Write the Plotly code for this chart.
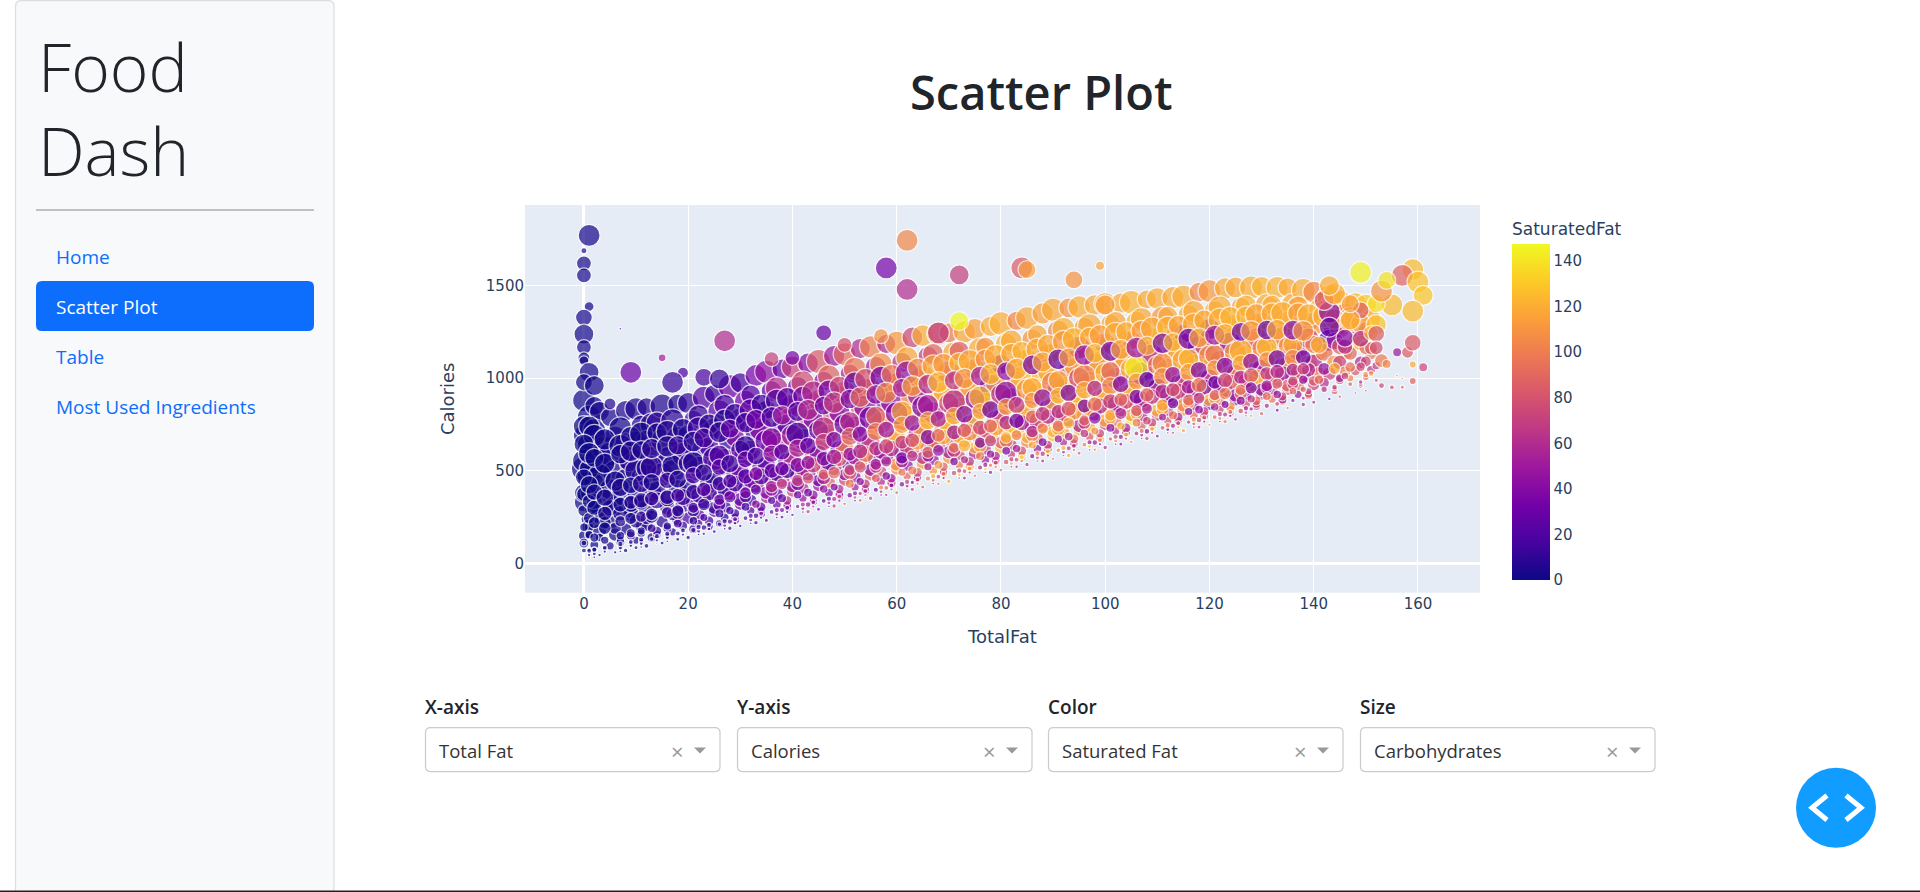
import plotly.graph_objects as go

# values: columns of bubbles, fills of the mass, outliers, lower fringe
total_fat = [
    0,1,0,2,0,1,0,1,0,0, 2,0,1,3,1,0,2,1,0,1, 3,2,4,3,2,4,3,3,2,3, 5,6,5,6,5,6,5,6,5,6,
    8,7,8,9,8,7,9,8,7,8, 10,11,10,9,11,10,9,11,10,10, 12,13,12,13,12,13,12,12,13,12, 15,14,15,16,15,14,16,15,14,15,
    18,17,18,19,17,18,19,18,17,18, 20,21,20,19,21,20,21,20,21,20, 23,22,24,23,22,24,23,22,24,23, 25,26,25,24,26,25,26,25,26,25,
    28,27,29,28,27,29,28,27,29,28, 30,31,30,29,31,30,31,30,29,30, 33,32,34,33,32,34,33,32,34,33, 35,36,35,34,36,35,36,35,34,35,
    38,37,39,38,37,39,38,37,39,38, 40,41,40,39,41,40,41,40,39,40, 43,42,44,43,42,44,43,42,44,43, 45,46,45,44,46,45,46,45,44,45,
    48,47,49,48,47,49,48,47,49,48, 50,51,50,49,51,50,51,50,49,50, 53,52,54,53,52,54,53,52,54,53, 55,56,55,54,56,55,56,55,54,55,
    58,57,59,58,57,59,58,57,59,58, 60,61,60,59,61,60,61,60,59,60, 63,62,64,63,62,64,63,62,64,63, 65,66,65,64,66,65,66,65,64,65,
    68,67,69,68,67,69,68,67,69,68, 70,71,70,69,71,70,71,70,69,70, 73,72,74,73,72,74,73,72,74,73, 75,76,75,74,76,75,76,75,74,75,
    78,77,79,78,77,79,78,77,79,78, 80,81,80,79,81,80,81,80,79,80, 83,82,84,83,82,84,83,82,84,83, 85,86,85,84,86,85,86,85,84,85,
    88,87,89,88,87,89,88,87,89,88, 90,91,90,89,91,90,91,90,89,90, 93,92,94,93,92,94,93,92,94,93, 95,96,95,94,96,95,96,95,94,95,
    98,97,99,98,97,99,98,97,99,98, 100,101,100,99,101,100,101,100,99,100, 103,102,104,103,102,104,103,102,104,103, 105,106,105,104,106,105,106,105,104,105,
    108,107,109,108,107,109,108,107,109,108, 110,111,110,109,111,110,111,110,109,110, 113,112,114,113,112,114,113,112,114,113, 115,116,115,114,116,115,116,115,114,115,
    118,117,119,118,117,119,118,117,119,118, 120,121,120,119,121,120,121,120,119,120, 123,122,124,123,122,124,123,122,124,123, 125,126,125,124,126,125,126,125,124,125,
    128,127,129,128,127,129,128,127,129,128, 130,131,130,129,131,130,131,130,129,130, 133,132,134,133,132,134,133,132,134,133, 135,136,135,134,136,135,136,135,134,135,
    138,137,139,138,137,139,138,137,139,138, 140,141,140,139,141,140,141,140,139,140, 143,142,144,143,142,144,143,142,144,143, 145,146,145,144,146,145,146,145,144,145,
    148,147,149,148,147,149,148,147,149,148, 150,151,150,149,151,150,151,150,149,150,
    # second fill
    1,0,1,2,1, 2,1,2,3,1, 4,3,5,4,3, 7,6,7,6,7, 9,10,9,10,9, 11,12,11,12,11, 14,13,14,13,14, 16,17,16,17,16,
    19,20,19,18,19, 22,21,22,21,22, 24,25,24,25,24, 27,26,27,26,27, 29,30,29,30,29, 32,31,32,31,32, 34,35,34,35,34, 37,36,37,36,37,
    39,40,39,40,39, 42,41,42,41,42, 44,45,44,45,44, 47,46,47,46,47, 49,50,49,50,49, 52,51,52,51,52, 54,55,54,55,54, 57,56,57,56,57,
    59,60,59,60,59, 62,61,62,61,62, 64,65,64,65,64, 67,66,67,66,67, 69,70,69,70,69, 72,71,72,71,72, 74,75,74,75,74, 77,76,77,76,77,
    79,80,79,80,79, 82,81,82,81,82, 84,85,84,85,84, 87,86,87,86,87, 89,90,89,90,89, 92,91,92,91,92, 94,95,94,95,94, 97,96,97,96,97,
    99,100,99,100,99, 102,101,102,101,102, 104,105,104,105,104, 107,106,107,106,107, 109,110,109,110,109, 112,111,112,111,112, 114,115,114,115,114, 117,116,117,116,117,
    119,120,119,120,119, 122,121,122,121,122, 124,125,124,125,124, 127,126,127,126,127, 129,130,129,130,129, 132,131,132,131,132, 134,135,134,135,134, 137,136,137,136,137,
    139,140,139,140,139, 142,141,142,141,142, 144,145,144,145,144, 147,146,147,146,147, 149,150,149,150,149, 152,151,152,151,152,
    # third fill
    0,0,0,0,0,0, 1,1,1,1,1,1, 2,2,2,2,2,2, 4,4,4,4,4,4, 7,7,7,7,7,7, 9,9,9,9,9,9, 11,11,11,11,11,11, 13,13,13,13,13,13,
    16,16,16,16,16,16, 18,18,18,18,18,18, 21,21,21,21,21,21, 23,23,23,23,23,23, 26,26,26,26,26,26, 28,28,28,28,28,28, 31,31,31,31,31,31, 33,33,33,33,33,33,
    36,36,36,36,36,36, 38,38,38,38,38,38, 41,41,41,41,41,41, 43,43,43,43,43,43, 46,46,46,46,46,46, 48,48,48,48,48,48, 51,51,51,51,51,51, 53,53,53,53,53,53,
    56,56,56,56,56,56, 58,58,58,58,58,58, 61,61,61,61,61,61, 63,63,63,63,63,63, 66,66,66,66,66,66, 68,68,68,68,68,68, 71,71,71,71,71,71, 73,73,73,73,73,73,
    76,76,76,76,76,76, 78,78,78,78,78,78, 81,81,81,81,81,81, 83,83,83,83,83,83, 86,86,86,86,86,86, 88,88,88,88,88,88, 91,91,91,91,91,91, 93,93,93,93,93,93,
    96,96,96,96,96,96, 98,98,98,98,98,98, 101,101,101,101,101,101, 103,103,103,103,103,103, 106,106,106,106,106,106, 108,108,108,108,108,108, 111,111,111,111,111,111, 113,113,113,113,113,113,
    116,116,116,116,116,116, 118,118,118,118,118,118, 121,121,121,121,121,121, 123,123,123,123,123,123, 126,126,126,126,126,126, 128,128,128,128,128,128, 131,131,131,131,131,131, 133,133,133,133,133,133,
    136,136,136,136,136,136, 138,138,138,138,138,138,
    # outliers
    1,0,0,0,1,0,0,0,0,0,7,15,9,27,19,17,23,26,46,50,40,36,
    62,58,62,72,84,85,94,99,72,57,68,100,149,159,157,160,161,159,155,152,153,154,
    161,159,157,157,156,155,153,156,158,159,159,143,143,142,144,143,146,149,149,147,147,151,152,152,153,154,
    1,0,2,5,
    # lower fringe
    1,1,1, 2,2,2, 4,4,4, 7,7,7, 9,9,9, 11,11,11, 14,14,14, 16,16,16, 19,19,19, 22,22,22, 24,24,24, 27,27,27,
    29,29,29, 32,32,32, 34,34,34, 37,37,37, 39,39,39, 42,42,42, 44,44,44, 47,47,47, 49,49,49, 52,52,52, 54,54,54,
    57,57,57, 59,59,59, 62,62,62, 64,64,64, 67,67,67, 69,69,69, 72,72,72, 74,74,74, 77,77,77, 79,79,79, 82,82,82,
    84,84,84, 87,87,87, 89,89,89, 92,92,92, 94,94,94, 97,97,97, 99,99,99, 102,102,102, 104,104,104, 107,107,107,
    109,109,109, 112,112,112, 114,114,114, 117,117,117, 119,119,119, 122,122,122, 124,124,124, 127,127,127,
]
calories = [
    880,790,690,600,510,420,330,240,150,70, 850,740,640,550,470,380,290,200,110,35, 820,720,620,520,430,340,260,180,100,45, 790,680,590,490,400,310,225,155,95,60,
    825,730,640,545,455,365,270,185,115,70, 835,745,650,560,470,375,285,200,125,85, 845,750,660,565,475,385,295,210,140,95, 850,760,665,575,480,395,305,225,155,110,
    860,770,680,585,495,400,315,235,170,130, 865,775,685,590,500,410,325,245,185,140, 895,800,705,610,520,430,340,260,200,160, 915,820,725,630,535,445,355,280,215,172,
    955,855,755,660,565,475,385,305,235,190, 975,875,775,680,585,490,400,320,250,202, 1015,910,810,710,610,515,425,340,270,220, 1035,930,830,725,630,530,440,355,285,232,
    1050,945,840,740,640,545,455,375,305,250, 1060,955,850,750,650,555,470,390,315,262, 1080,975,870,770,670,575,490,405,335,280, 1090,985,880,780,680,590,500,420,345,292,
    1120,1010,905,800,700,610,520,440,365,310, 1130,1025,920,815,715,620,530,450,375,322, 1160,1050,940,835,735,635,545,465,395,340, 1170,1060,950,845,745,650,560,480,405,352,
    1185,1075,965,860,760,665,575,495,425,370, 1190,1085,975,870,770,675,590,510,435,382, 1220,1110,1000,895,795,700,610,530,455,400, 1230,1120,1010,905,805,710,620,540,465,412,
    1240,1130,1020,915,815,725,640,560,485,430, 1245,1135,1030,925,825,735,650,570,495,443, 1250,1145,1040,935,840,750,665,585,515,461, 1265,1155,1050,945,850,760,675,595,525,473,
    1280,1170,1065,960,865,775,690,615,545,492, 1295,1185,1075,970,875,785,700,625,555,504, 1310,1200,1090,985,890,800,720,640,575,522, 1325,1210,1100,1000,900,810,730,655,585,534,
    1350,1235,1125,1020,925,835,750,675,605,553, 1370,1255,1140,1035,940,850,765,690,620,565, 1380,1265,1155,1050,950,860,780,705,640,583, 1385,1275,1165,1060,965,875,795,720,650,595,
    1395,1285,1175,1075,980,890,810,735,670,614, 1400,1295,1185,1085,990,900,820,750,680,626, 1405,1300,1195,1095,1000,915,835,765,700,644, 1410,1305,1205,1105,1010,925,845,775,710,656,
    1425,1320,1215,1115,1025,940,860,790,730,675, 1430,1325,1225,1125,1035,950,870,800,740,687, 1435,1335,1235,1140,1050,965,890,820,760,705, 1440,1340,1240,1150,1060,975,900,830,770,717,
    1465,1360,1260,1165,1075,990,915,850,790,736, 1470,1365,1265,1170,1085,1000,925,860,800,748, 1485,1380,1280,1185,1095,1015,940,875,815,766, 1490,1385,1285,1190,1105,1025,950,885,830,778,
    1490,1390,1295,1205,1120,1040,970,905,850,797, 1495,1395,1300,1210,1125,1050,980,915,860,809, 1490,1395,1305,1215,1135,1060,990,930,875,827, 1490,1395,1305,1220,1140,1070,1000,940,885,839,
    1475,1385,1300,1220,1145,1075,1015,955,905,858, 1465,1375,1295,1215,1145,1080,1020,965,915,870, 1440,1360,1280,1205,1140,1080,1025,975,930,888, 1420,1345,1270,1200,1140,1085,1035,990,945,900,
    1400,1330,1260,1195,1135,1085,1040,1000,960,920, 1395,1320,1255,1190,1135,1090,1045,1005,970,932,
    # second fill
    740,555,375,285,195, 690,510,335,245,155, 670,475,300,220,140, 635,445,270,190,125, 685,500,320,228,150, 700,515,330,243,163, 705,520,340,253,175, 712,528,350,265,190,
    725,540,358,275,202, 730,545,368,285,215, 752,565,385,300,230, 772,582,400,318,248, 805,612,430,345,270, 825,632,445,360,285, 860,660,470,382,305, 880,678,485,398,320,
    892,690,500,415,340, 902,700,512,430,352, 922,720,532,448,370, 932,730,545,460,382, 958,750,565,480,402, 972,765,575,490,412, 995,785,590,505,430, 1005,795,605,520,442,
    1020,810,620,535,460, 1030,820,632,550,472, 1055,845,655,570,492, 1065,855,665,580,502, 1075,865,682,600,522, 1082,875,692,610,532, 1092,888,708,625,550, 1102,898,718,635,560,
    1118,912,732,652,580, 1130,922,742,662,590, 1145,938,760,680,608, 1155,950,770,692,620, 1180,972,792,712,640, 1198,988,808,728,655, 1210,1000,820,742,672, 1220,1012,835,758,685,
    1230,1028,850,772,702, 1240,1038,860,785,715, 1250,1048,875,800,732, 1255,1058,885,810,742, 1268,1070,900,825,760, 1275,1080,910,835,770, 1285,1095,928,855,790, 1290,1105,938,865,800,
    1312,1120,952,882,820, 1315,1128,962,892,830, 1330,1140,978,908,845, 1335,1148,988,918,858, 1342,1162,1005,938,878, 1348,1168,1015,948,888, 1350,1175,1025,960,902, 1350,1180,1035,970,912,
    1342,1182,1045,985,930, 1335,1180,1050,992,940, 1320,1172,1052,1000,952, 1308,1170,1060,1012,968, 1295,1165,1062,1020,980, 1288,1162,1068,1025,988,
    # third fill
    645,465,375,285,195,110, 595,425,335,245,155,75, 570,385,300,220,140,75, 540,355,270,190,125,78, 590,410,318,228,150,92, 605,422,330,243,163,105, 612,430,340,253,175,118, 620,438,350,265,190,132,
    632,448,358,275,202,150, 638,455,368,285,215,162, 658,475,385,300,230,180, 678,490,400,318,248,194, 708,520,430,345,270,212, 728,538,445,360,285,226, 760,562,470,382,305,245, 778,580,485,398,320,258,
    790,592,500,415,340,278, 800,602,512,430,352,288, 820,622,532,448,370,308, 830,635,545,460,382,318, 852,655,565,480,402,338, 868,668,575,490,412,348, 888,685,590,505,430,368, 898,698,605,520,442,378,
    912,712,620,535,460,398, 922,722,632,550,472,408, 948,748,655,570,492,428, 958,758,665,580,502,438, 968,770,682,600,522,458, 978,780,692,610,532,469, 988,795,708,625,550,488, 998,805,718,635,560,499,
    1012,820,732,652,580,518, 1022,830,742,662,590,530, 1038,845,760,680,608,548, 1050,855,770,692,620,560, 1072,880,792,712,640,579, 1088,895,808,728,655,592, 1102,905,820,742,672,611, 1112,920,835,758,685,622,
    1125,935,850,772,702,642, 1135,945,860,785,715,653, 1145,958,875,800,732,672, 1155,968,885,810,742,683, 1165,982,900,825,760,702, 1175,992,910,835,770,713, 1188,1008,928,855,790,732, 1195,1018,938,865,800,743,
    1212,1032,952,882,820,763, 1218,1042,962,892,830,774, 1232,1055,978,908,845,790, 1238,1065,988,918,858,804, 1250,1080,1005,938,878,823, 1255,1088,1015,948,888,834, 1260,1098,1025,960,902,851, 1262,1105,1035,970,912,862,
    1260,1110,1045,985,930,880, 1255,1112,1050,992,940,892,
    # outliers
    1771,1688,1620,1555,1387,1328,1238,1168,1110,1094,1267,1110,1032,1202,1029,978,1005,996,1245,1180,1110,1103,
    1744,1595,1479,1558,1596,1586,1531,1607,1308,1227,1245,1396,1571,1586,1555,1519,1447,1362,1396,1402,1470,1528,
    1059,985,951,998,1014,951,960,1140,1140,1191,1074,1357,1276,1420,1456,1500,1216,1213,1366,1315,1402,1245,1240,1164,1095,1077,
    1032,978,960,861,
    # lower fringe
    28,46,68, 34,52,74, 46,64,86, 65,83,105, 77,95,117, 89,107,129, 107,125,147, 120,138,160, 138,156,178, 156,174,196, 168,186,208, 187,205,227,
    199,217,239, 217,235,257, 229,247,269, 248,266,288, 260,278,300, 278,296,318, 290,308,330, 309,327,349, 321,339,361, 339,357,379, 351,369,391,
    370,388,410, 382,400,422, 400,418,440, 412,430,452, 431,449,471, 443,461,483, 461,479,501, 473,491,513, 492,510,532, 504,522,544, 522,540,562,
    534,552,574, 553,571,593, 565,583,605, 583,601,623, 595,613,635, 614,632,654, 626,644,666, 644,662,684, 656,674,696, 675,693,715,
    687,705,727, 705,723,745, 717,735,757, 736,754,776, 748,766,788, 766,784,806, 778,796,818, 797,815,837,
]
saturated_fat = [
    1,1,0,2,0,1,0,1,0,0, 2,0,1,2,1,0,2,0,0,1, 3,2,3,2,1,3,2,2,1,1, 4,3,5,3,4,5,2,3,4,2,
    6,3,7,4,5,2,6,3,4,1, 5,8,3,9,4,6,2,7,5,2, 8,4,10,5,7,9,3,6,8,4, 6,11,4,9,12,5,8,10,6,9,
    5,9,14,7,12,4,10,15,9,6, 10,16,6,12,18,8,14,20,11,7, 22,12,18,9,24,14,7,20,16,10, 14,25,10,20,28,8,18,24,12,22,
    30,18,32,12,26,22,36,15,28,20, 16,35,24,40,14,30,20,34,26,12, 35,22,42,18,38,26,48,16,32,24, 45,28,18,40,52,24,36,58,30,20,
    30,62,38,22,55,32,70,28,46,36, 72,35,58,26,44,64,30,75,40,25, 40,78,32,66,28,85,42,60,34,70, 85,42,72,35,56,30,80,48,65,38,
    50,88,38,76,95,34,62,90,44,72, 92,55,80,40,68,100,36,75,50,85, 60,98,45,84,38,72,105,48,66,95, 102,52,90,42,110,64,40,88,55,78,
    58,108,70,45,95,115,48,78,100,60, 112,65,100,50,85,120,42,105,62,90, 75,118,55,105,118,60,90,48,110,72, 120,70,112,52,100,115,65,115,45,85,
    115,90,112,122,60,105,80,50,118,95, 100,118,75,118,55,125,92,110,62,120, 118,85,124,105,122,62,120,80,115,55, 115,120,95,118,70,128,108,58,118,88,
    120,110,118,30,118,88,120,66,105,50, 120,124,28,115,118,75,100,125,60,95, 105,118,122,95,45,122,128,70,112,55, 118,110,118,126,85,118,58,105,122,65,
    115,118,85,122,124,48,110,92,118,60, 118,105,122,118,52,118,80,128,68,100, 110,122,118,88,118,126,65,115,55,118, 120,115,60,118,105,122,85,122,50,90,
    118,118,124,80,118,112,55,120,72,105, 115,120,88,122,45,122,108,75,118,60, 118,118,110,122,82,118,62,98,118,50, 122,122,95,112,38,118,85,145,70,105,
    118,118,85,120,42,115,92,60,122,75, 120,112,145,60,118,35,105,78,120,55, 118,118,88,122,110,40,92,65,118,80, 120,120,45,115,118,82,36,105,70,118,
    105,118,124,40,118,88,118,55,95,72, 112,118,32,92,120,60,108,38,85,120, 118,120,105,118,70,115,45,88,60,100, 118,115,126,42,120,85,120,52,95,70,
    120,122,110,88,118,60,105,40,80,115, 122,118,118,95,120,50,110,78,65,90, 122,120,112,82,120,55,92,68,100,45, 118,118,122,105,72,118,60,85,48,95,
    120,115,85,118,68,108,52,92,75,60, 105,120,112,80,118,60,95,72,85,55, 120,115,40,28,95,110,75,62,88,30, 118,105,85,45,120,70,100,78,55,80,
    125,110,68,118,90,60,85,102,72,65, 130,120,82,128,100,75,70,90,80,60,
    # second fill
    1,0,1,2,0, 1,0,2,1,0, 2,1,3,1,2, 3,2,4,5,3, 4,6,3,5,7, 3,7,5,9,4, 5,9,12,6,10, 7,4,11,14,8,
    5,12,16,8,13, 14,6,18,10,16, 9,16,20,12,18, 6,20,14,26,10, 12,24,18,28,15, 26,10,32,20,24, 14,30,22,38,28, 20,42,16,48,34,
    24,52,18,40,60, 30,16,55,36,48, 60,26,74,32,44, 34,66,25,58,40, 72,30,84,42,60, 28,62,46,90,52, 80,36,98,44,68, 32,92,50,74,60,
    98,40,62,108,52, 44,118,70,48,92, 104,38,118,60,84, 118,54,96,44,110, 112,76,120,50,90, 122,60,118,70,100, 118,46,104,122,64, 108,124,74,118,50,
    120,62,116,84,58, 118,44,128,94,70, 122,112,52,120,78, 118,120,66,104,48, 118,100,58,122,72, 112,118,84,120,60, 122,76,118,54,96, 118,104,124,66,86,
    114,120,62,118,74, 118,90,48,116,66, 120,122,78,110,58, 112,144,52,118,88, 118,100,64,122,70, 120,108,42,120,82, 116,118,72,104,60, 118,122,50,114,92,
    118,112,38,120,68, 120,96,56,118,74, 122,118,84,48,110, 122,120,62,100,80, 116,104,120,44,90, 118,124,76,60,98, 120,110,52,86,72, 114,118,96,66,50,
    122,100,58,84,70, 118,120,46,92,62, 110,86,118,52,78, 118,60,96,70,88, 116,92,74,108,64, 128,86,68,112,76,
    # third fill
    0,1,0,0,0,0, 1,0,1,0,1,0, 1,2,0,1,2,1, 2,3,4,1,3,2, 3,5,2,6,4,3, 6,2,7,4,8,5, 4,8,6,10,3,7, 9,5,11,7,12,4,
    6,12,9,14,8,11, 11,7,15,10,17,13, 8,16,12,20,9,15, 17,10,22,14,19,11, 12,24,16,25,13,20, 26,14,20,30,18,24, 16,28,22,36,15,30, 30,18,40,25,44,21,
    20,44,30,58,24,38, 50,24,34,66,28,42, 22,56,38,72,30,46, 60,28,44,78,34,50, 30,72,40,84,48,36, 70,34,54,92,38,60, 36,88,46,66,100,42, 92,40,58,76,44,68,
    42,100,64,50,84,36, 108,48,72,56,40,90, 52,112,68,34,96,46, 116,46,78,60,100,38, 60,120,36,88,52,104, 124,54,92,44,112,70, 66,118,48,96,36,80, 110,40,84,120,58,76,
    52,116,74,34,104,62, 122,30,90,66,48,98, 44,110,58,124,36,84, 118,68,32,100,54,76, 34,112,88,56,120,44, 116,42,72,104,38,66, 28,120,60,92,48,108, 112,36,80,124,56,70,
    46,118,32,88,64,102, 124,58,96,40,110,52, 30,106,70,118,44,86, 116,38,90,60,122,50, 48,112,34,80,100,66, 120,28,92,56,74,44, 36,108,62,116,48,84, 122,44,78,30,96,58,
    32,114,54,88,40,70, 118,36,100,62,46,76, 48,110,30,84,56,92, 120,40,72,104,34,64, 30,116,58,94,42,80, 112,44,86,36,66,52, 26,108,70,50,92,60, 118,32,62,82,46,74,
    38,104,56,76,88,50, 110,30,68,48,84,62,
    # outliers
    2,5,3,3,2,3,2,3,2,2,25,55,30,60,18,12,18,12,30,80,35,72,
    105,35,60,70,85,115,110,118,147,110,65,115,145,125,88,128,130,125,125,138,110,140,
    75,88,90,105,105,80,75,50,85,85,120,40,28,80,120,120,40,60,85,120,115,125,85,80,100,105,
    2,1,2,8,
    # lower fringe
    0,1,1, 1,2,1, 2,2,3, 3,4,2, 4,6,3, 5,3,7, 6,9,4, 7,12,5, 8,14,6, 10,6,16, 12,20,8, 9,24,14,
    20,12,30, 14,34,22, 26,16,40, 18,44,30, 48,22,36, 24,50,60, 30,70,40, 34,56,28, 60,42,84, 30,72,48, 36,90,54,
    40,62,100, 44,78,38, 96,50,66, 48,108,70, 52,86,120, 60,44,98, 56,128,74, 44,66,112, 64,140,52, 50,92,72, 42,118,68,
    54,84,136, 48,70,104, 60,42,128, 78,52,120, 46,88,66, 62,132,50, 68,44,98, 58,110,76, 40,72,126, 64,52,88,
    48,80,116, 70,40,92, 58,124,64, 44,84,104, 62,50,76, 46,96,68, 72,54,88, 60,78,52,
]
carbohydrates = [
    123,136,110,123,150,110,90,64,30,6, 87,110,136,98,136,85,88,50,24,2, 98,123,150,136,110,115,78,52,20,3, 87,123,136,150,110,100,72,44,18,3,
    100,125,140,130,110,88,62,40,20,5, 120,100,135,145,95,82,58,36,16,4, 85,130,115,140,120,96,70,44,22,6, 140,110,125,100,130,84,62,38,18,4,
    95,135,120,110,140,92,64,36,17,4, 110,90,125,130,105,84,60,40,21,5, 125,105,95,140,115,94,68,42,18,3, 90,130,120,100,135,82,58,34,16,4,
    135,110,95,125,105,88,66,44,22,5, 100,120,140,90,130,86,62,38,17,3, 115,95,130,120,100,92,70,40,20,5, 130,105,90,135,115,82,58,36,16,4,
    95,125,115,100,140,94,68,43,21,4, 120,100,130,110,95,86,62,38,18,3, 105,135,90,125,115,90,66,40,19,5, 140,95,115,105,130,84,60,35,16,4,
    110,125,100,130,90,92,70,42,21,5, 125,90,135,110,105,85,64,37,18,3, 100,130,115,95,125,88,58,39,20,4, 120,110,95,135,100,94,67,41,17,5,
    90,125,130,105,115,82,62,36,19,3, 135,100,110,120,95,86,68,40,21,4, 105,120,90,130,110,90,60,38,16,5, 115,95,125,100,135,84,66,43,18,4,
    130,110,100,90,120,92,62,37,20,3, 95,125,135,110,105,85,70,40,17,5, 120,100,90,130,115,88,58,36,19,4, 110,135,105,95,125,82,64,42,21,3,
    100,90,125,120,110,92,68,38,16,5, 135,115,95,105,130,86,60,40,18,4, 90,120,130,100,115,82,66,35,20,3, 125,105,110,135,95,94,62,41,17,5,
    110,95,120,125,100,84,70,37,19,4, 130,115,90,105,120,90,58,39,21,3, 95,130,110,100,125,85,64,43,16,5, 120,100,125,90,115,88,68,36,18,4,
    105,135,95,120,110,82,60,40,20,3, 125,90,115,130,100,92,66,38,17,5, 100,120,130,95,110,86,62,42,19,4, 135,105,90,125,115,82,68,35,21,3,
    90,125,110,100,130,94,58,41,16,5, 115,130,100,120,95,84,64,37,18,4, 120,95,135,105,110,90,70,39,20,3, 130,110,90,125,100,85,60,43,17,5,
    95,120,115,130,105,88,66,36,19,4, 125,100,110,90,120,82,62,40,21,3, 110,135,95,115,100,92,68,38,16,5, 105,90,125,120,110,86,58,42,18,4,
    130,115,100,95,125,80,64,35,20,3, 100,125,110,130,90,94,70,41,17,5, 120,95,135,105,115,84,60,37,19,4, 90,130,105,120,100,90,66,39,21,3,
    135,110,95,125,90,85,62,43,16,5, 115,100,130,105,85,82,58,36,18,4, 140,125,135,120,80,66,46,28,12,3, 110,120,100,75,60,50,34,20,9,3,
    125,105,90,70,50,40,25,13,7,2, 115,95,80,60,42,30,20,11,6,2,
    # second fill
    105,125,70,48,24, 120,95,62,44,20, 110,130,66,40,18, 125,100,58,36,16, 100,120,66,46,22, 130,105,60,38,18, 95,125,70,44,24, 120,110,64,40,20,
    110,95,68,46,22, 125,115,60,38,18, 100,130,72,42,24, 120,105,62,40,20, 115,90,66,48,22, 130,110,58,36,18, 95,125,70,44,24, 125,100,64,42,20,
    110,120,60,38,22, 100,130,68,46,18, 130,95,62,40,24, 115,125,72,44,20, 95,110,58,36,22, 125,100,66,48,18, 110,130,70,42,24, 120,95,60,38,20,
    100,125,64,46,22, 130,105,68,40,18, 95,120,62,44,24, 120,110,72,36,20, 115,100,58,42,22, 105,130,66,48,18, 125,95,70,38,24, 100,120,60,44,20,
    130,105,64,40,22, 110,125,68,46,18, 95,115,62,36,24, 125,100,72,42,20, 105,130,58,38,22, 120,95,66,48,18, 130,110,70,44,24, 100,125,60,40,20,
    115,105,64,46,22, 125,90,68,36,18, 100,120,62,42,24, 110,130,72,38,20, 130,95,58,44,22, 120,105,66,40,18, 95,125,70,48,24, 125,100,60,36,20,
    105,115,64,42,22, 130,95,68,38,18, 110,120,62,46,24, 100,125,60,40,20, 120,90,66,44,22, 115,105,58,36,18, 130,85,62,42,20, 105,95,56,34,16,
    120,80,50,28,12, 125,72,40,22,10, 100,66,34,18,8, 110,58,28,14,6, 95,48,22,10,5, 100,42,18,8,4,
    # third fill
    95,70,52,36,18,8, 110,78,46,32,16,5, 88,66,56,34,20,7, 100,74,50,38,17,6, 92,80,54,30,18,8, 105,68,48,36,20,6, 86,76,58,32,16,7, 98,72,50,38,19,5,
    110,66,54,34,17,8, 90,78,46,36,20,6, 102,70,56,30,18,7, 94,74,50,38,16,8, 108,64,52,32,20,5, 88,80,48,36,17,7, 100,68,58,34,19,6, 96,76,46,30,18,8,
    106,72,54,38,16,6, 90,66,50,32,20,7, 98,80,56,36,17,5, 104,70,48,34,19,8, 86,74,52,30,18,6, 110,68,58,38,16,7, 92,76,46,32,20,8, 100,64,54,36,17,5,
    94,78,50,34,19,7, 106,70,56,30,18,6, 88,72,48,38,16,8, 102,66,52,32,20,5, 96,80,58,36,17,7, 108,68,46,34,19,6, 90,74,54,30,18,8, 100,76,50,38,16,6,
    92,64,56,32,20,7, 104,78,48,36,17,5, 86,70,52,34,19,8, 110,72,58,30,18,6, 94,66,46,38,16,7, 98,80,54,32,20,8, 106,68,50,36,17,5, 88,74,56,34,19,7,
    102,76,48,30,18,6, 92,64,52,38,16,8, 100,78,58,32,20,5, 96,70,46,36,17,7, 108,72,54,34,19,6, 90,66,50,30,18,8, 104,80,56,38,16,6, 86,68,48,32,20,7,
    110,74,52,36,17,5, 94,76,58,34,19,8, 98,64,46,30,18,6, 106,78,54,38,16,7, 88,70,50,32,20,8, 102,72,56,36,17,5, 92,66,48,34,19,7, 100,80,52,30,18,6,
    96,68,44,26,14,5, 104,60,38,22,10,4,
    # outliers
    116,9,54,54,24,68,96,54,35,24,2,15,116,116,30,116,78,96,62,54,54,54,
    116,116,116,96,116,78,78,20,88,54,116,96,116,116,116,116,96,116,116,78,116,78,
    20,12,4,2,2,6,9,20,35,68,12,116,96,96,116,96,78,68,68,96,78,54,68,47,47,20,
    96,70,96,35,
    # lower fringe
    1,3,6, 2,4,7, 1,3,6, 2,4,7, 1,3,6, 2,4,7, 1,3,6, 2,4,7, 1,3,6, 2,4,7, 1,3,6, 2,4,7,
    1,3,6, 2,4,7, 1,3,6, 2,4,7, 1,3,6, 2,4,7, 1,3,6, 2,4,7, 1,3,6, 2,4,7, 1,3,6,
    2,4,7, 1,3,6, 2,4,7, 1,3,6, 2,4,7, 1,3,6, 2,4,7, 1,3,6, 2,4,7, 1,3,6, 2,4,7,
    1,3,6, 2,4,7, 1,3,6, 2,4,7, 1,3,6, 2,4,7, 1,3,6, 2,4,7, 1,3,6, 2,4,7,
    1,3,6, 2,4,7, 1,3,6, 2,4,7, 1,3,6, 2,4,7, 1,3,6, 2,4,7,
]

x_ticks = [0, 20, 40, 60, 80, 100, 120, 140, 160]
y_ticks = [0, 500, 1000, 1500]
color_ticks = [0, 20, 40, 60, 80, 100, 120, 140]
nav_items = ["Home", "Scatter Plot", "Table", "Most Used Ingredients"]
dropdown_labels = ["X-axis", "Y-axis", "Color", "Size"]
dropdown_values = ["Total Fat", "Calories", "Saturated Fat", "Carbohydrates"]

W = 1920
H = 892
CHROME_FONT = "Open Sans"


def px(x):
    return x / W


def py(y):
    return 1 - y / H


def round_rect(x0, y0, x1, y1, r):
    pts = [
        f"M{px(x0 + r)},{py(y0)}", f"L{px(x1 - r)},{py(y0)}", f"Q{px(x1)},{py(y0)} {px(x1)},{py(y0 + r)}",
        f"L{px(x1)},{py(y1 - r)}", f"Q{px(x1)},{py(y1)} {px(x1 - r)},{py(y1)}",
        f"L{px(x0 + r)},{py(y1)}", f"Q{px(x0)},{py(y1)} {px(x0)},{py(y1 - r)}",
        f"L{px(x0)},{py(y0 + r)}", f"Q{px(x0)},{py(y0)} {px(x0 + r)},{py(y0)}", "Z",
    ]
    return " ".join(pts)


def polyline(points, close=False):
    d = "M" + " L".join(f"{px(a)},{py(b)}" for a, b in points)
    return d + (" Z" if close else "")


def label(x, y, text, size, color, weight=400, anchor="left", family=CHROME_FONT):
    return dict(xref="paper", yref="paper", x=px(x), y=py(y), text=text, showarrow=False,
                xanchor=anchor, yanchor="middle", borderpad=0,
                font=dict(family=family, size=size, color=color, weight=weight))


fig = go.Figure()
fig.add_trace(go.Scatter(
    x=total_fat, y=calories, mode="markers",
    marker=dict(
        size=carbohydrates, sizemode="area", sizeref=2 * 150 / 25 ** 2,
        color=saturated_fat, cmin=0, cmax=147.5, colorscale="Plasma", opacity=0.7,
        line=dict(color="white", width=1.25),
        colorbar=dict(
            title=dict(text="SaturatedFat", font=dict(size=17, color="#2a3f5f")),
            tickvals=color_ticks, tickfont=dict(size=15, color="#2a3f5f"),
            thicknessmode="pixels", thickness=37.5, lenmode="pixels", len=361,
            x=px(1512), xanchor="left", y=py(219), yanchor="top", ypad=0, xpad=0,
            outlinewidth=0, ticks="",
        ),
    ),
))

shapes = []
# sidebar
shapes.append(dict(type="path", xref="paper", yref="paper", path=round_rect(15.5, 0.5, 334, 900, 6),
                   fillcolor="#f8f9fa", line=dict(color="#dcdee0", width=1.25)))
shapes.append(dict(type="line", xref="paper", yref="paper", x0=px(36), x1=px(314), y0=py(210), y1=py(210),
                   line=dict(color="#c0c1c3", width=2)))
shapes.append(dict(type="path", xref="paper", yref="paper", path=round_rect(36, 281, 314, 331, 6),
                   fillcolor="#0d6efd", line=dict(width=0)))
# dropdown boxes
box_left = [425, 737, 1048, 1360]
for left in box_left:
    shapes.append(dict(type="path", xref="paper", yref="paper", path=round_rect(left + 0.5, 727.5, left + 295, 771.5, 5),
                       fillcolor="white", line=dict(color="#cccccc", width=1.25)))
    shapes.append(dict(type="path", xref="paper", yref="paper",
                       path=polyline([(left + 269, 747.5), (left + 281, 747.5), (left + 275, 753.5)], True),
                       fillcolor="#999999", line=dict(width=0)))
# round code button
shapes.append(dict(type="circle", xref="paper", yref="paper", x0=px(1796), x1=px(1876), y0=py(767.7), y1=py(847.7),
                   fillcolor="#119dff", line=dict(width=0)))
shapes.append(dict(type="path", xref="paper", yref="paper",
                   path=polyline([(1827, 795.5), (1812, 807.7), (1827, 820)]),
                   line=dict(color="white", width=5)))
shapes.append(dict(type="path", xref="paper", yref="paper",
                   path=polyline([(1846, 795.5), (1861, 807.7), (1846, 820)]),
                   line=dict(color="white", width=5)))
# bottom edge of the window
shapes.append(dict(type="rect", xref="paper", yref="paper", x0=0, x1=1, y0=0, y1=py(890.5),
                   fillcolor="#222222", line=dict(width=0)))

annotations = [
    label(37, 66, "Food", 66, "#212529", 300),
    label(37, 150, "Dash", 66, "#212529", 300),
    label(1041, 92, "Scatter Plot", 47, "#212529", 600, "center"),
]
for i, item in enumerate(nav_items):
    color = "white" if item == "Scatter Plot" else "#0d6efd"
    annotations.append(label(55, 257 + 50 * i, item, 19, color))
for left, head, value in zip(box_left, dropdown_labels, dropdown_values):
    annotations.append(label(left - 1, 707, head, 19, "#212529", 600))
    annotations.append(label(left + 13, 750.5, value, 18.5, "#333333"))
    annotations.append(label(left + 252, 750.5, "×", 22, "#999999", 400, "center"))

fig.update_layout(
    width=W, height=H, autosize=False,
    margin=dict(l=0, r=0, t=0, b=0, pad=0),
    paper_bgcolor="white", plot_bgcolor="#e5ecf6",
    font=dict(family="DejaVu Sans", size=15, color="#2a3f5f"),
    showlegend=False, shapes=shapes, annotations=annotations,
    xaxis=dict(
        domain=[px(525), px(1480)], range=[-11.3, 171.9], tickvals=x_ticks,
        gridcolor="white", gridwidth=1.25, zeroline=True, zerolinecolor="white", zerolinewidth=2.5,
        ticks="", tickfont=dict(size=15, color="#2a3f5f"),
        title=dict(text="TotalFat", font=dict(size=18, color="#2a3f5f"), standoff=18), automargin=False,
    ),
    yaxis=dict(
        domain=[py(592.7), py(205)], range=[-158, 1935], tickvals=y_ticks,
        gridcolor="white", gridwidth=1.25, zeroline=True, zerolinecolor="white", zerolinewidth=2.5,
        ticks="", tickfont=dict(size=15, color="#2a3f5f"),
        title=dict(text="Calories", font=dict(size=18, color="#2a3f5f"), standoff=26), automargin=False,
    ),
)

fig.write_html("out.html", config={"displayModeBar": False},
               post_script="document.body.style.margin='0';document.body.style.overflow='hidden';")
